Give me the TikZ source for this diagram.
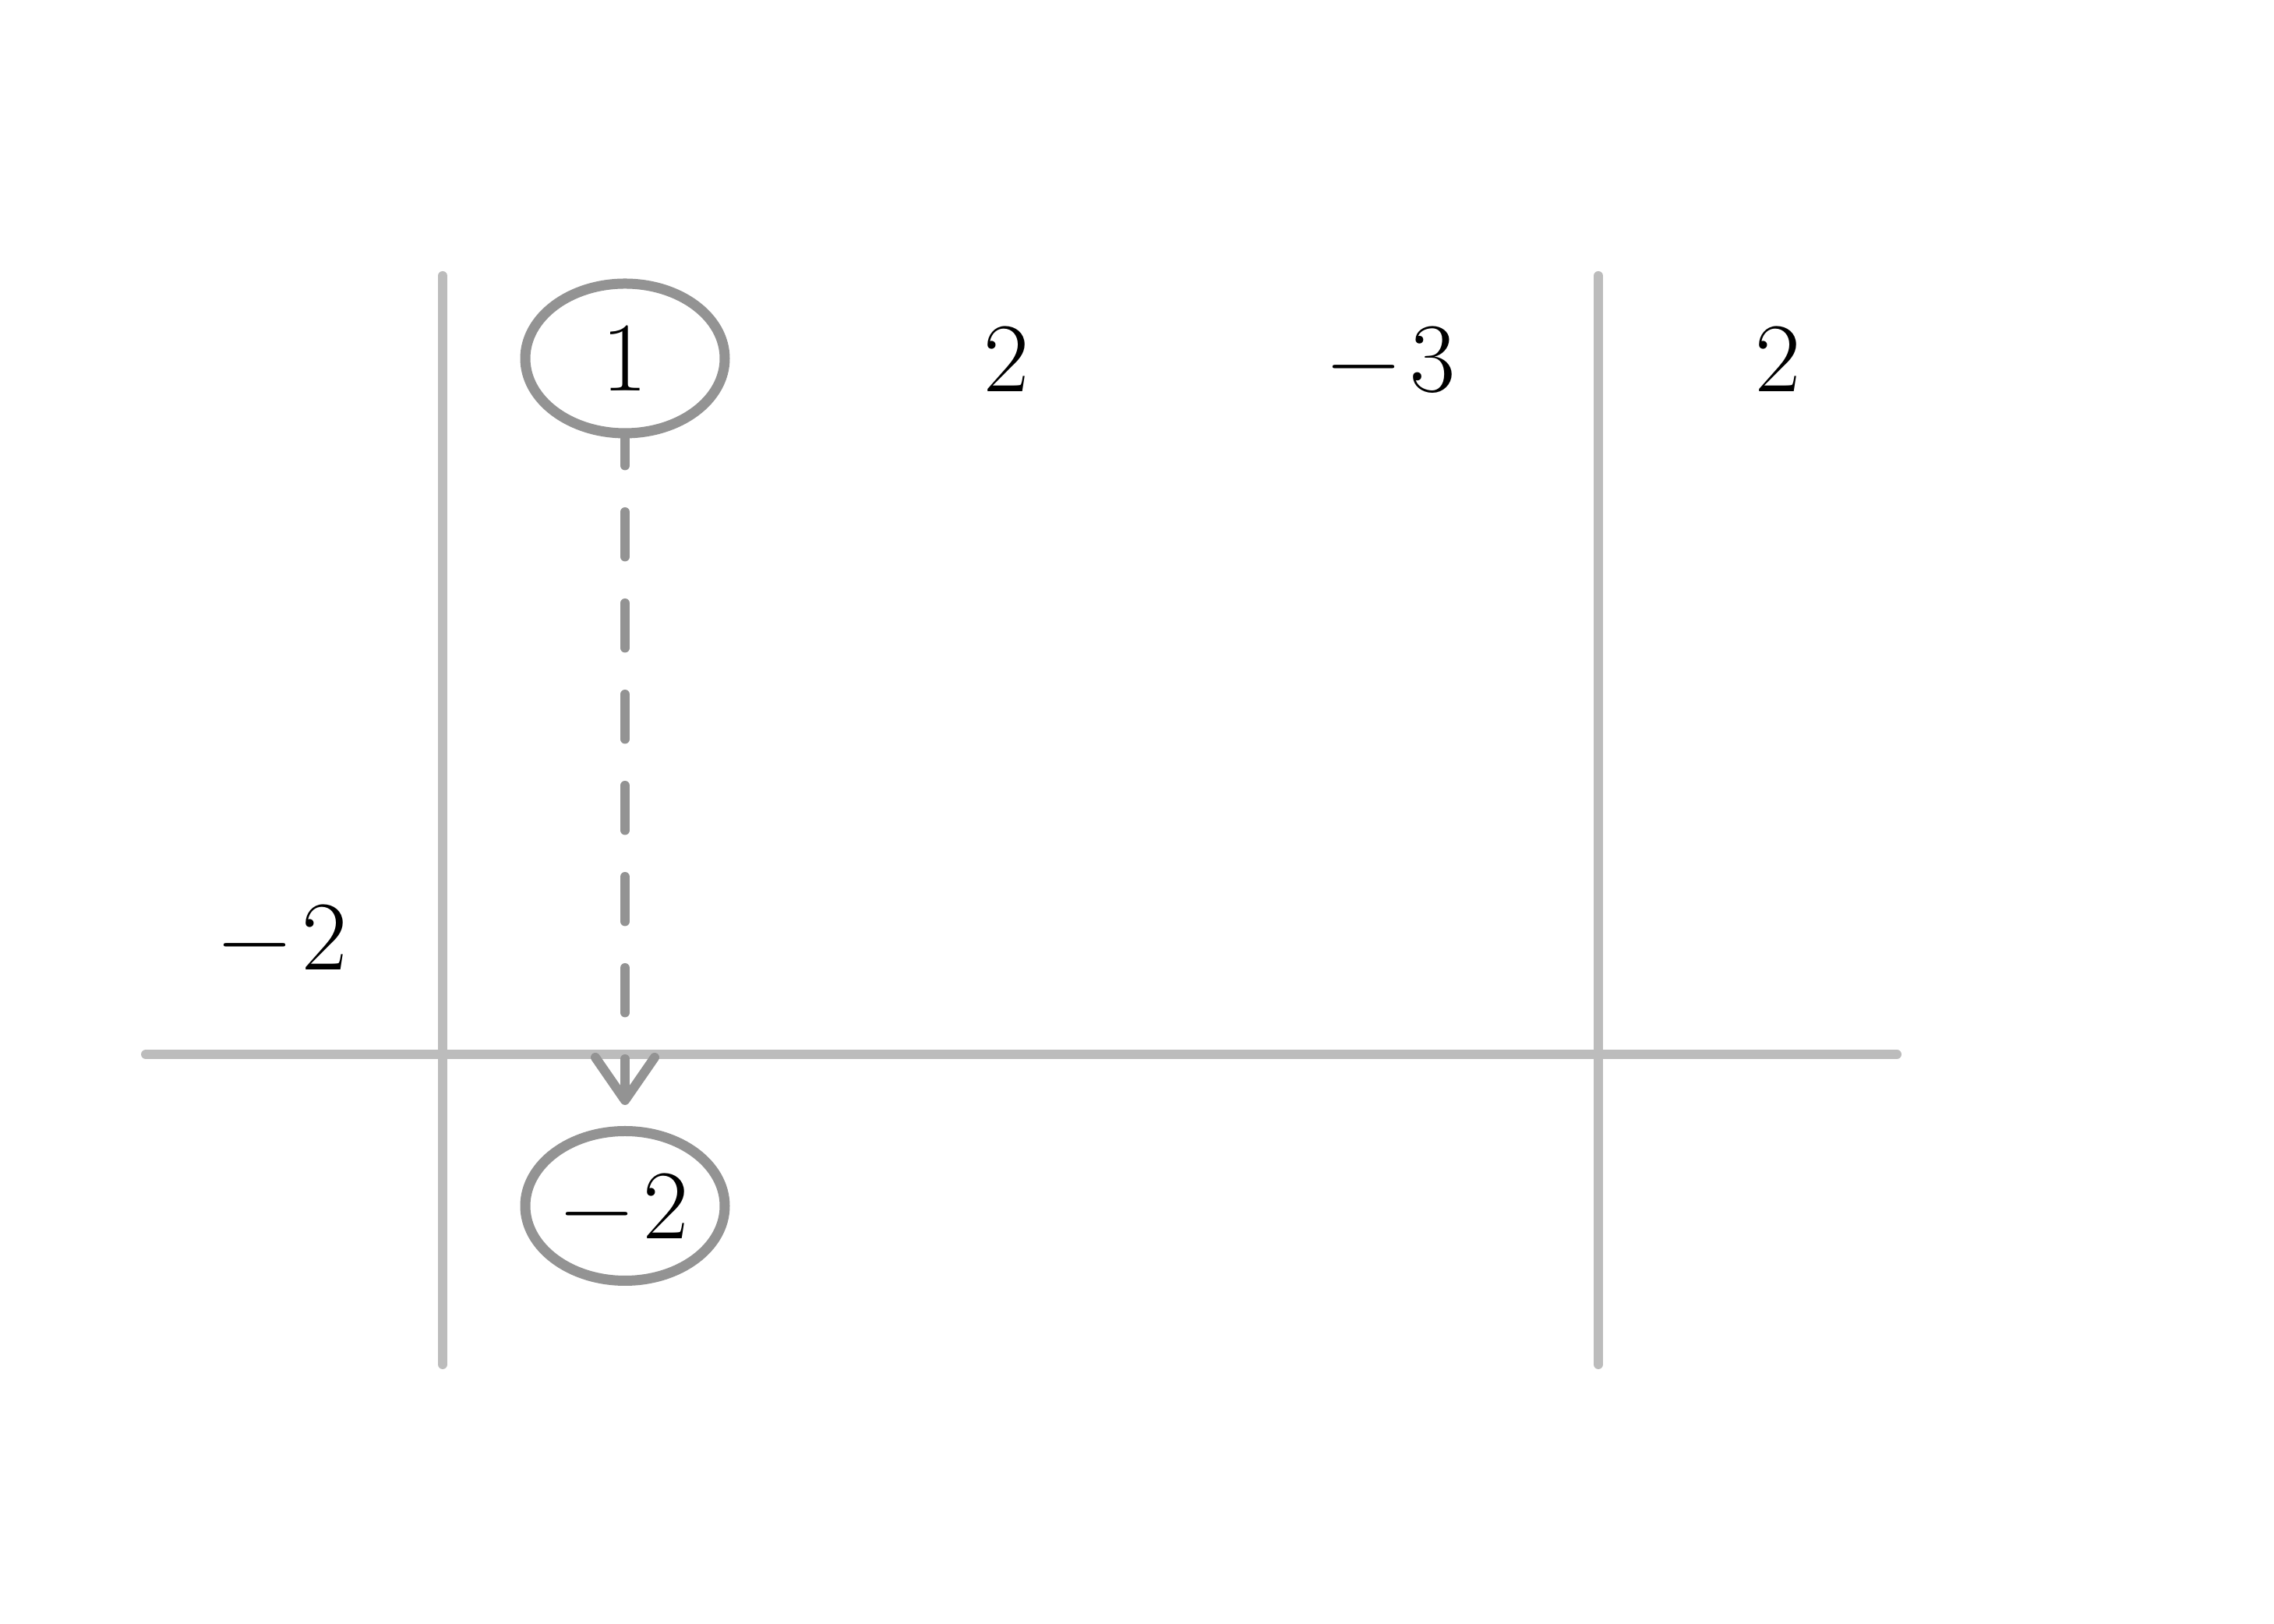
\documentclass[tikz,border=0pt]{standalone}
\usetikzlibrary{arrows.meta,shapes.geometric}
\definecolor{gridgray}{RGB}{188,188,188}
\definecolor{nodegray}{RGB}{147,147,147}
\newcommand{\negnum}[1]{−\kern4pt#1}
\begin{document}
\begin{tikzpicture}[
  gridline/.style={draw=gridgray, line width=0.12cm, line cap=round},
  valnode/.style={ellipse, draw=nodegray, line width=0.13cm, fill=white,
    minimum width=2.56cm, minimum height=1.92cm, inner sep=0pt,
    font=\fontsize{36}{40}\selectfont},
  valtext/.style={anchor=base, inner sep=0pt, font=\fontsize{36}{40}\selectfont},
  flow/.style={draw=nodegray, line width=0.12cm, line cap=round,
    dash pattern=on 0.575cm off 0.595cm, dash phase=0.225cm,
    -{Straight Barb[length=0.55cm, width=0.76cm, round]}, shorten >=0.27cm}
]
\useasboundingbox (0,0) rectangle (29.18,20.84);
% grid lines
\draw[gridline] (1.87,7.31) -- (24.34,7.31);
\draw[gridline] (5.68,17.30) -- (5.68,3.33);
\draw[gridline] (20.51,17.30) -- (20.51,3.33);
% values
\node[valnode] (e1) at (8.02,16.24) {1};
\node[valnode] (e2) at (8.02,5.365) {\negnum{2}};
\node[valtext] (t2) at (12.92,15.81) {2};
\node[valtext] (t3) at (17.86,15.81) {\negnum{3}};
\node[valtext] (t4) at (22.82,15.81) {2};
\node[valtext] (l1) at (3.635,8.39) {\negnum{2}};
% arrow
\draw[flow] (e1.south) -- (e2.north);
\end{tikzpicture}
\end{document}
